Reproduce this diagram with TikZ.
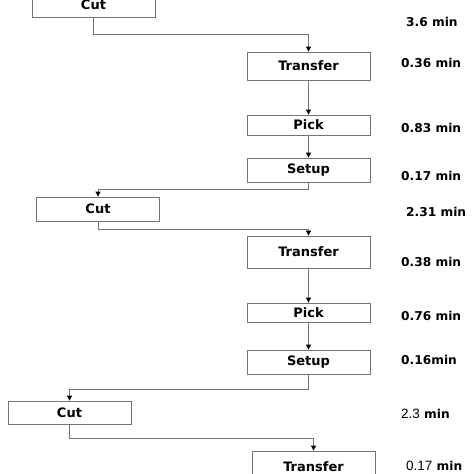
\documentclass[tikz,border=0pt]{standalone}
\usepackage{fontspec}
\setmainfont{DejaVu Sans}
\newfontfamily\arialfont{Liberation Sans}
\usetikzlibrary{arrows.meta}
\begin{document}
\begin{tikzpicture}[x=1pt,y=-1pt,
  box/.style={draw=black!55,line width=0.8pt,minimum width=123pt,inner sep=0pt,
    font=\fontsize{13}{15}\selectfont\bfseries},
  lab/.style={anchor=west,inner sep=0pt,font=\fontsize{12.2}{14}\selectfont\bfseries},
  conn/.style={draw=black!55,line width=0.8pt,-{Triangle[length=5pt,width=5pt,color=black]}}]
\useasboundingbox (0,0) rectangle (474,474);
\fill[white] (0,0) rectangle (474,474);
% boxes
\node[box,minimum height=24pt] (c1) at (93.5,5) {Cut};
\node[box,minimum height=28pt] (t1) at (308.5,66) {Transfer};
\node[box,minimum height=20pt] (p1) at (308.5,125) {Pick};
\node[box,minimum height=24pt] (s1) at (308.5,170) {Setup};
\node[box,minimum height=24pt] (c2) at (98,209) {Cut};
\node[box,minimum height=32pt] (t2) at (308.5,252) {Transfer};
\node[box,minimum height=19pt] (p2) at (308.5,312.5) {Pick};
\node[box,minimum height=24pt] (s2) at (308.5,362) {Setup};
\node[box,minimum height=23pt] (c3) at (69.5,412.5) {Cut};
\node[box,minimum height=32pt] (t3) at (313.5,467) {Transfer};
% labels
\node[lab] (l1) at (406,22) {3.6 min};
\node[lab] (l2) at (401,63) {0.36 min};
\node[lab] (l3) at (401,128) {0.83 min};
\node[lab] (l4) at (401,176) {0.17 min};
\node[lab] (l5) at (406,212) {2.31 min};
\node[lab] (l6) at (401,262) {0.38 min};
\node[lab] (l7) at (401,316) {0.76 min};
\node[lab] (l8) at (401,360) {0.16min};
\node[lab] (l9) at (401,414) {{\arialfont\mdseries\fontsize{13.5}{15}\selectfont 2.3} min};
\node[lab] (l10) at (406,466) {{\arialfont\mdseries\fontsize{13.5}{15}\selectfont 0.17} min};
% connectors
\draw[conn] (c1.south) -- ++(0,17) -| (t1.north);
\draw[conn] (t1.south) -- (p1.north);
\draw[conn] (p1.south) -- (s1.north);
\draw[conn] (s1.south) -- ++(0,7) -| (c2.north);
\draw[conn] (c2.south) -- ++(0,8) -| (t2.north);
\draw[conn] (t2.south) -- (p2.north);
\draw[conn] (p2.south) -- (s2.north);
\draw[conn] (s2.south) -- ++(0,15) -| (c3.north);
\draw[conn] (c3.south) -- ++(0,14) -| (t3.north);
\end{tikzpicture}
\end{document}
